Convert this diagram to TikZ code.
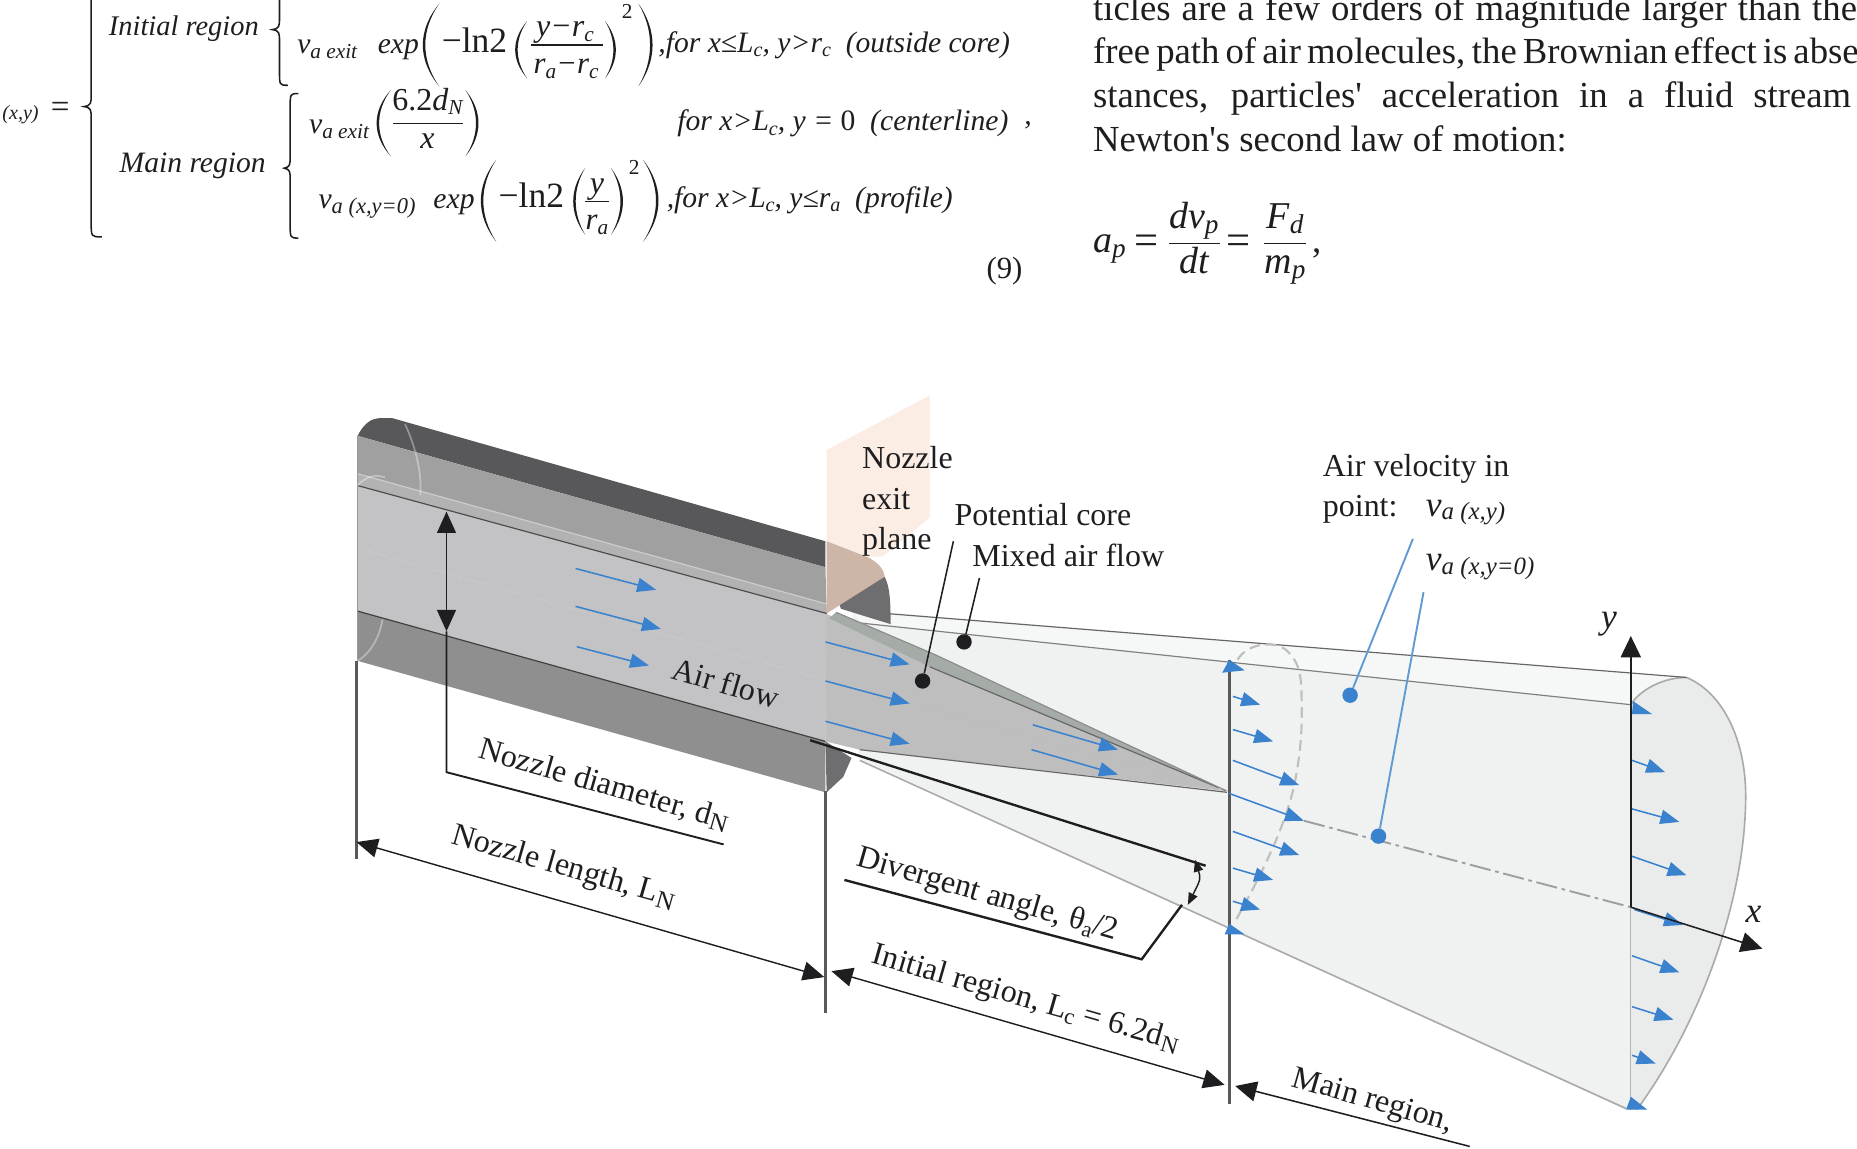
\documentclass[tikz,border=0pt]{standalone}
\usepackage{fontspec}
\setmainfont{Liberation Serif}
\newfontfamily\plainbody{Liberation Serif}
\usetikzlibrary{arrows.meta}
\definecolor{ink}{RGB}{30,30,32}
\definecolor{flow}{RGB}{58,130,205}
\definecolor{leader}{RGB}{95,155,210}
\definecolor{nozdark}{RGB}{88,88,90}
\definecolor{nozband}{RGB}{160,160,160}
\definecolor{nozlight}{RGB}{178,178,178}
\definecolor{nozinner}{RGB}{195,195,197}
\definecolor{nozlow}{RGB}{143,143,143}
\definecolor{nozend}{RGB}{110,110,112}
\definecolor{corecol}{RGB}{190,190,190}
\definecolor{mixcol}{RGB}{165,172,168}
\definecolor{conebody}{RGB}{240,241,241}
\definecolor{coneface}{RGB}{234,235,235}
\definecolor{conetop}{RGB}{246,248,247}
\definecolor{peach}{RGB}{251,236,228}
\definecolor{peachdark}{RGB}{205,182,168}
\tikzset{
  lbl/.style={anchor=base west,inner sep=0pt,outer sep=0pt,text=ink,font=\fontsize{27}{30}\selectfont},
  rot/.style={lbl,rotate=-16},
  bodytxt/.style={anchor=base west,inner sep=0pt,outer sep=0pt,text=ink,font=\plainbody\fontsize{31}{34}\selectfont},
  eqn/.style={anchor=base west,inner sep=0pt,outer sep=0pt,text=ink,font=\fontsize{25}{28}\selectfont\itshape},
  eqnc/.style={eqn,anchor=base},
  flowarrow/.style={draw=flow,line width=1.3pt,-{Triangle[length=16pt,width=12pt]}},
  bkarrow/.style={draw=ink,line width=1.2pt,{Triangle[length=18pt,width=16pt]}-{Triangle[length=18pt,width=16pt]}},
  onearrow/.style={draw=ink,line width=1.3pt,-{Triangle[length=18pt,width=17pt]}},
  smallarrow/.style={draw=ink,line width=1.2pt,{Triangle[length=10pt,width=8pt]}-{Triangle[length=10pt,width=8pt]}},
  wall/.style={draw=black!65,line width=2pt},
  bkline/.style={draw=ink,line width=1.6pt},
  thinbk/.style={draw=ink,line width=1.3pt},
  bluelead/.style={draw=leader,line width=1.6pt},
  bkdot/.style={circle,fill=ink,inner sep=0pt,minimum size=13pt},
  bldot/.style={circle,fill=flow,inner sep=0pt,minimum size=13pt},
  axisline/.style={draw=black!38,line width=1.6pt,dash pattern=on 18pt off 4pt on 3pt off 4pt},
  ringline/.style={draw=black!25,line width=1.8pt,dash pattern=on 9pt off 5pt},
  edgeline/.style={draw=black!55,line width=1pt},
  coneedge/.style={draw=black!33,line width=1.4pt},
  ghost/.style={draw=white,opacity=.35,line width=1.5pt},
  delim/.style={fill=ink,draw=none},
  brace/.style={draw=ink,line width=1.3pt},
  fracbar/.style={draw=ink,line width=1pt}
}
\newcommand\lowtx[3][-4pt]{\raisebox{#1}{\fontsize{#2}{#2}\selectfont #3}}
\newcommand\lpar[4]{\fill[delim] (#2,#3) .. controls ({#2-(#2-#1)*4/3},{#3+0.32*(#4-#3)}) and ({#2-(#2-#1)*4/3},{#3+0.68*(#4-#3)}) .. (#2,#4) .. controls ({#2-(#2-#1)*4/3+2.8},{#3+0.68*(#4-#3)}) and ({#2-(#2-#1)*4/3+2.8},{#3+0.32*(#4-#3)}) .. cycle;}
\newcommand\rpar[4]{\fill[delim] (#1,#3) .. controls ({#1+(#2-#1)*4/3},{#3+0.32*(#4-#3)}) and ({#1+(#2-#1)*4/3},{#3+0.68*(#4-#3)}) .. (#1,#4) .. controls ({#1+(#2-#1)*4/3-2.8},{#3+0.68*(#4-#3)}) and ({#1+(#2-#1)*4/3-2.8},{#3+0.32*(#4-#3)}) .. cycle;}
% end x, stem x, tip x, top, mid, bottom
\newcommand\bracepath[6]{\draw[brace] (#1,#4) .. controls (#2,#4) and (#2,#4) .. (#2,{#4+12}) -- (#2,{#5-10}) .. controls (#2,{#5-3}) and (#2,{#5-1}) .. (#3,#5) .. controls (#2,{#5+1}) and (#2,{#5+3}) .. (#2,{#5+10}) -- (#2,{#6-12}) .. controls (#2,#6) and (#2,#6) .. (#1,#6);}
\begin{document}
\begin{tikzpicture}[x=1pt,y=-1pt]
\useasboundingbox (0,0) rectangle (1568,970);
\clip (0,0) rectangle (1568,970);
\fill[white] (0,0) rectangle (1568,970);

% ---------- equation 9 ----------
\node[eqn,font=\fontsize{17}{20}\selectfont\itshape] (eqA) at (2,101) {(x,y)};
\node[eqn,font=\fontsize{28}{30}\selectfont] (eqB) at (43,99) {=};
\bracepath{86}{77}{71}{-30}{90}{200}
\node[eqn,font=\fontsize{24}{28}\selectfont\itshape] (eqC) at (92,30) {Initial region};
\node[eqn] (eqD) at (101,146) {Main region};
\bracepath{243}{236}{230}{-25}{25}{72}
\bracepath{252}{245}{240}{79}{142}{201}
% row 1
\node[eqn] (r1a) at (251,45) {v\lowtx{18}{a exit}};
\node[eqn] (r1b) at (319,45) {exp};
\lpar{357}{371}{3}{73}
\rpar{539}{551}{3}{73}
\node[eqn,font=\fontsize{30}{32}\selectfont] (r1c) at (373,44) {−ln2};
\lpar{435}{445}{18}{66}
\rpar{511}{520}{18}{66}
\node[eqnc,font=\fontsize{27}{30}\selectfont\itshape] (r1d) at (477,31) {y−r\lowtx{18}{c}};
\path[fracbar,draw] (448,38) -- (509,38);
\node[eqnc,font=\fontsize{26}{30}\selectfont\itshape] (r1e) at (478,62) {r\lowtx{18}{a}−r\lowtx{18}{c}};
\node[eqn,font=\fontsize{18}{20}\selectfont] (r1f) at (525,16) {2};
\node[eqn] (r1g) at (556,44) {,for x≤L\lowtx{17}{c}, y>r\lowtx{17}{c}\ \ (outside core)};
% row 2
\node[eqn] (r2a) at (261,113) {v\lowtx{18}{a exit}};
\lpar{318}{330}{76}{132}
\rpar{393}{404}{76}{132}
\node[eqnc,font=\fontsize{27}{30}\selectfont] (r2b) at (361,93) {6.2\textit{d\lowtx{18}{N}}};
\path[fracbar,draw] (332,104) -- (391,104);
\node[eqnc,font=\fontsize{27}{30}\selectfont\itshape] (r2c) at (361,125) {x};
\node[eqn] (r2d) at (572,110) {for x>L\lowtx{17}{c}, y = \textup{0}\ \ (centerline)};
\node[eqn] (r2e) at (865,105) {,};
% row 3
\node[eqn] (r3a) at (269,176) {v\lowtx{19}{a (x,y=0)}};
\node[eqn] (r3b) at (366,176) {exp};
\lpar{406}{419}{135}{204}
\rpar{543}{556}{135}{204}
\node[eqn,font=\fontsize{30}{32}\selectfont] (r3c) at (421,175) {−ln2};
\lpar{484}{494}{142}{198}
\rpar{516}{526}{142}{198}
\node[eqnc,font=\fontsize{27}{30}\selectfont\itshape] (r3d) at (504,163) {y};
\path[fracbar,draw] (494,170) -- (514,170);
\node[eqnc,font=\fontsize{26}{30}\selectfont\itshape] (r3e) at (504,194) {r\lowtx{18}{a}};
\node[eqn,font=\fontsize{18}{20}\selectfont] (r3f) at (531,147) {2};
\node[eqn] (r3g) at (563,175) {,for x>L\lowtx{17}{c}, y≤r\lowtx{17}{a}\ \ (profile)};
\node[eqn,font=\fontsize{26}{28}\selectfont] (r3h) at (833,235) {(9)};

% ---------- right column text ----------
\node[bodytxt] (t1) at (923,17) {\makebox[645pt][s]{ticles are a few orders of magnitude larger than the}};
\node[bodytxt] (t2) at (923,54) {\makebox[645pt][s]{free path of air molecules, the Brownian effect is abse}};
\node[bodytxt] (t3) at (923,91) {\makebox[640pt][s]{stances, particles' acceleration in a fluid stream}};
\node[bodytxt] (t4) at (923,128) {Newton's second law of motion:};
\node[bodytxt,font=\fontsize{32}{34}\selectfont\itshape] (f1) at (923,213) {a\lowtx{23}{p}};
\node[bodytxt,font=\fontsize{36}{38}\selectfont] (f2) at (958,215) {=};
\node[bodytxt,anchor=base,font=\fontsize{32}{34}\selectfont\itshape] (f3) at (1008,193) {dv\lowtx{23}{p}};
\path[fracbar,draw] (987,205.5) -- (1030,205.5);
\node[bodytxt,anchor=base,font=\fontsize{32}{34}\selectfont\itshape] (f4) at (1008,231) {dt};
\node[bodytxt,font=\fontsize{36}{38}\selectfont] (f5) at (1036,215) {=};
\node[bodytxt,anchor=base,font=\fontsize{32}{34}\selectfont\itshape] (f6) at (1085,193) {F\lowtx{23}{d}};
\path[fracbar,draw] (1067,205.5) -- (1103,205.5);
\node[bodytxt,anchor=base,font=\fontsize{32}{34}\selectfont\itshape] (f7) at (1085,231) {m\lowtx{23}{p}};
\node[bodytxt,font=\fontsize{31}{34}\selectfont] (f8) at (1108,213) {,};

% ---------- exit plane ----------
\fill[peach] (698,380) -- (785,334) -- (785,437) -- (745,470) -- (698,470) -- cycle;

% ---------- cone ----------
\fill[conebody] (720,515) -- (1424,572) .. controls (1455,585) and (1474,625) .. (1474,672)
  .. controls (1474,760) and (1435,865) .. (1382,937) -- (1373,937) -- (725,640) -- cycle;
\fill[coneface] (1377,595) .. controls (1385,582) and (1405,572) .. (1424,572)
  .. controls (1455,585) and (1474,625) .. (1474,672)
  .. controls (1474,760) and (1435,865) .. (1382,937) -- (1377,935) -- cycle;
\fill[conetop] (720,515) -- (1424,572) .. controls (1405,572) and (1385,582) .. (1377,595) -- (726,526) -- cycle;
\draw[coneedge] (1424,572) .. controls (1455,585) and (1474,625) .. (1474,672)
  .. controls (1474,760) and (1435,865) .. (1382,937);
\draw[coneedge] (1377,595) .. controls (1385,582) and (1405,572) .. (1424,572);
\draw[coneedge] (726,642) -- (1373,936);
\draw[edgeline,draw=black!60] (723,516) -- (1424,572);
\draw[edgeline,draw=black!50] (726,526) -- (1377,595);
\draw[draw=black!30,line width=1pt] (1377,595) -- (1377,937);
\draw[ringline] (1045,557) .. controls (1052,545) and (1072,540) .. (1085,548)
  .. controls (1097,558) and (1099,570) .. (1099,590)
  .. controls (1100,620) and (1097,640) .. (1094,657)
  .. controls (1088,690) and (1070,730) .. (1044,776);

% ---------- core ----------
\fill[corecol] (697,518) -- (1036,668) -- (726,633) -- (697,626) -- cycle;
\fill[mixcol] (706,517) -- (790,553) -- (1036,668) -- (785,563) -- (700,522) -- cycle;
\draw[black!60,line width=1pt] (726,633) -- (1036,669);
\draw[black!60,line width=1pt] (785,563) -- (1036,668);
\draw[black!45,line width=1pt] (706,517) -- (790,553) -- (1036,668);

% ---------- nozzle ----------
\fill[nozdark] (302,368) .. controls (307,358) and (313,353) .. (322,353) -- (331,353) -- (697,457) -- (697,479) -- cycle;
\fill[nozband] (302,368) -- (697,479) -- (698,518) -- (302,410) -- cycle;
\fill[nozlight] (302,400) -- (698,510) -- (698,518) -- (302,410) -- cycle;
\fill[nozinner] (302,410) -- (698,518) -- (697,626) -- (302,516) -- cycle;
\fill[nozlow] (302,516) -- (697,626) -- (697,669) -- (302,558) -- cycle;
\fill[peachdark] (698,457) -- (734,471) .. controls (742,476) and (746,480) .. (747,487) -- (709,511) -- (698,518) -- cycle;
\fill[nozend] (747,487) .. controls (751,495) and (752,505) .. (752,527) -- (710,514) -- (709,511) -- cycle;
\fill[nozend] (697,626) -- (719,640) -- (712,656) -- (698,669) -- cycle;
\draw[black!20,line width=1pt] (302,400) -- (698,510);
\draw[black!70,line width=1pt] (302,410) -- (698,518);
\draw[black!75,line width=1pt] (302,516) -- (697,626);
\draw[black!40,line width=1pt] (302,368) -- (302,558);
\draw[ghost] (342,358) .. controls (352,380) and (356,400) .. (355,418);
\draw[ghost] (302,410) .. controls (308,403) and (316,400) .. (325,403);
\draw[ghost] (323,523) .. controls (320,540) and (312,552) .. (302,558);
\draw[axisline,draw=black!22] (310,465) -- (700,575);
\draw[axisline,draw=black!26] (700,575) -- (1036,668);
\draw[axisline] (1101,693) -- (1377,766);

% ---------- walls and dimension lines ----------
\draw[wall] (301,558) -- (301,725);
\draw[wall] (697,668) -- (697,855);
\draw[wall] (1038,557) -- (1038,932);
\coordinate (dimA) at (301,711);
\coordinate (dimB) at (696,825);
\coordinate (dimC) at (702,820);
\coordinate (dimD) at (1034,916);
\coordinate (dimE) at (1043,917);
\coordinate (dimF) at (1241,968);
\draw[bkarrow] (dimA) -- (dimB);
\draw[bkarrow] (dimC) -- (dimD);
\draw[onearrow] (dimF) -- (dimE);
\coordinate (diaA) at (377,432);
\coordinate (diaB) at (377,533);
\coordinate (diaC) at (377,652);
\coordinate (diaD) at (611,713);
\draw[bkarrow] (diaA) -- (diaB);
\draw[bkline] (diaB) -- (diaC) -- (diaD);
\coordinate (divA) at (684,625);
\coordinate (divB) at (1018,731);
\coordinate (divC) at (713,743);
\coordinate (divD) at (964,810);
\coordinate (divE) at (998,764);
\draw[bkline,line width=2pt] (divA) -- (divB);
\draw[bkline,line width=2pt] (divC) -- (divD) -- (divE);
\coordinate (angA) at (1009,726);
\coordinate (angB) at (1003,764);
\draw[smallarrow] (angA) .. controls (1014,742) .. (angB);

% ---------- flow arrows ----------
\foreach \a/\b/\c/\d in {486/480/554/498, 486/512/558/531, 487/546/548/562,
  697/542/768/561, 697/575/768/594, 697/609/768/628, 872/612/944/633, 871/633/944/654,
  1041/588/1064/595, 1041/616/1075/626, 1041/642/1097/663, 1038/670/1101/693,
  1041/702/1097/722, 1041/733/1075/743, 1041/761/1064/768,
  1378/642/1406/652, 1378/683/1418/694, 1378/723/1424/739, 1380/768/1421/781,
  1378/807/1418/821, 1378/850/1413/861, 1378/891/1398/898}
  {\draw[flowarrow] (\a,\b) -- (\c,\d);}
\fill[flow] (1038,557) -- (1051,566) -- (1032,568) -- cycle;
\fill[flow] (1038,780) -- (1051,789) -- (1034,789) -- cycle;
\fill[flow] (1379,592) -- (1395,603) -- (1378,603) -- cycle;
\fill[flow] (1377,926) -- (1391,937) -- (1373,937) -- cycle;

% ---------- axes ----------
\coordinate (orig) at (1377,766);
\coordinate (ytip) at (1377,537);
\coordinate (xtip) at (1488,801);
\draw[onearrow] (orig) -- (ytip);
\draw[onearrow] (orig) -- (xtip);

% ---------- leaders ----------
\node[bkdot] (dotcore) at (779,575) {};
\node[bkdot] (dotmix) at (814,542) {};
\node[bldot] (dotup) at (1140,587) {};
\node[bldot] (dotax) at (1164,706) {};
\coordinate (leadcore) at (805,457);
\coordinate (leadmix) at (827,488);
\coordinate (leadup) at (1193,455);
\coordinate (leadax) at (1202,500);
\draw[thinbk] (leadcore) -- (dotcore);
\draw[thinbk] (leadmix) -- (dotmix);
\draw[bluelead] (leadup) -- (dotup);
\draw[bluelead] (leadax) -- (dotax);

% ---------- labels ----------
\node[lbl] (lnoz) at (728,396) {Nozzle};
\node[lbl] (lexit) at (728,430) {exit};
\node[lbl] (lplane) at (728,464) {plane};
\node[lbl] (lpot) at (806,444) {Potential core};
\node[lbl] (lmix) at (821,478) {Mixed air flow};
\node[lbl] (lvel) at (1117,402) {Air velocity in};
\node[lbl] (lpoint) at (1117,436) {point:};
\node[lbl,font=\fontsize{30}{32}\selectfont\itshape] (lva) at (1204,436) {v\lowtx[-3pt]{21}{a (x,y)}};
\node[lbl,font=\fontsize{30}{32}\selectfont\itshape] (lvb) at (1204,482) {v\lowtx[-3pt]{21}{a (x,y=0)}};
\node[lbl,font=\fontsize{30}{32}\selectfont\itshape] (ly) at (1352,531) {y};
\node[lbl,font=\fontsize{30}{32}\selectfont\itshape] (lx) at (1474,779) {x};
\node[rot] (lair) at (566,573) {Air flow};
\node[rot] (ldia) at (403,640) {Nozzle diameter, d\lowtx{21}{N}};
\node[rot] (llen) at (380,712) {Nozzle length, L\lowtx{21}{N}};
\node[rot] (ldiv) at (722,731) {Divergent angle, θ\lowtx{19}{a}/2};
\node[rot] (lini) at (735,813) {Initial region, L\lowtx{19}{c} = 6.2d\lowtx{20}{N}};
\node[rot] (lmain) at (1090,917) {Main region,};
\end{tikzpicture}
\end{document}
